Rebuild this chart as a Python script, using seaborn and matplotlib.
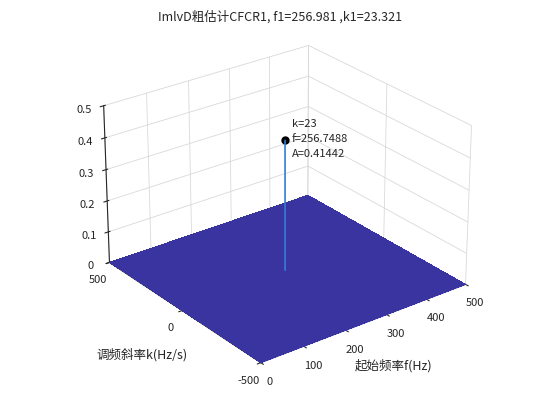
import numpy as np
import matplotlib
matplotlib.use("Agg")
import matplotlib.pyplot as plt
import seaborn as sns

sns.set_style("white")
plt.rcParams['font.family'] = ['Noto Sans CJK SC', 'DejaVu Sans']
plt.rcParams['axes.unicode_minus'] = False

# ----- data -----
f_axis = np.arange(0, 501, 10)          # 起始频率 (Hz)
k_axis = np.arange(-500, 501, 20)       # 调频斜率 (Hz/s)
peak_f = 256.7488
peak_k = 23
peak_A = 0.41442
title = "ImlvD粗估计CFCR1, f1=256.981 ,k1=23.321"
z_ticks = [0, 0.1, 0.2, 0.3, 0.4, 0.5]
z_labels = ["0", "0.1", "0.2", "0.3", "0.4", "0.5"]

F, K = np.meshgrid(f_axis, k_axis)
Z = np.zeros_like(F, dtype=float)

fig = plt.figure(figsize=(5.6, 4.2), dpi=100)
ax = fig.add_axes([-0.06, 0.0, 1.12, 1.04], projection="3d")
ax.plot_surface(F, K, Z, color="#3a34a0", edgecolor="none", linewidth=0,
                antialiased=False, shade=False, zorder=1)
ax.plot([peak_f, peak_f], [peak_k, peak_k], [0, peak_A], color="#2f7fd8", lw=1.2, zorder=5)
ax.scatter([peak_f], [peak_k], [peak_A], color="black", s=25, depthshade=False, zorder=6)
ax.text(peak_f + 12, peak_k - 12, peak_A - 0.06, f"k={peak_k}\nf={peak_f}\nA={peak_A}",
        fontsize=8, zorder=7, ha="left", va="bottom", linespacing=1.6)

ax.set_xlim(0, 500)
ax.set_ylim(-500, 500)
ax.set_zlim(0, 0.5)
ax.set_xticks([0, 100, 200, 300, 400, 500])
ax.set_yticks([-500, 0, 500])
ax.set_zticks(z_ticks)
ax.set_zticklabels(z_labels)
ax.tick_params(labelsize=8, pad=1)
ax.xaxis.set_rotate_label(False)
ax.yaxis.set_rotate_label(False)
ax.set_xlabel("起始频率f(Hz)", fontsize=9, labelpad=6)
ax.set_ylabel("调频斜率k(Hz/s)", fontsize=9, labelpad=10)
ax.view_init(elev=26, azim=-127.5)
ax.set_box_aspect((1.25, 1.25, 0.85), zoom=0.9)
for a in (ax.xaxis, ax.yaxis, ax.zaxis):
    a.set_pane_color((1, 1, 1, 1))
    a._axinfo["grid"]["color"] = (0.85, 0.85, 0.85, 1)
    a._axinfo["grid"]["linewidth"] = 0.6
fig.text(0.5, 0.975, title, fontsize=9, ha="center", va="top")
fig.savefig("out.png", dpi=100)
